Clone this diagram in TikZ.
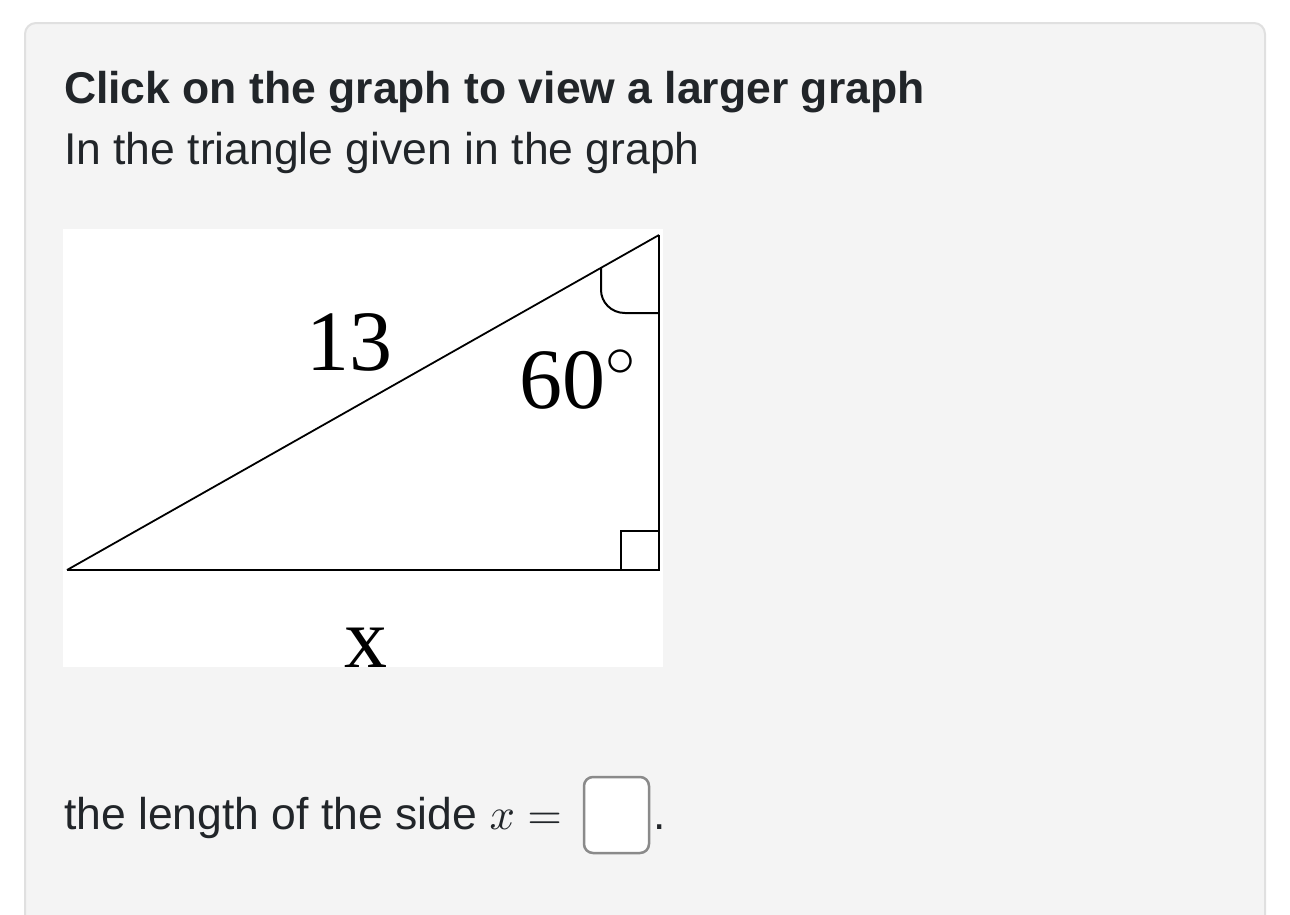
\documentclass[tikz,border=0pt]{standalone}
\usepackage{fontspec}
\setmainfont{Liberation Sans}
\newfontfamily\figfont{Liberation Serif}
\DeclareFontShape{OML}{cmm}{m}{it}{<->cmmi10}{\skewchar\font'177}
\DeclareFontShape{OMS}{cmsy}{m}{n}{<->cmsy10}{\skewchar\font'60}
\DeclareFontShape{OT1}{cmr}{m}{n}{<->cmr10}{}
\definecolor{panelfill}{HTML}{F4F4F4}
\definecolor{panelline}{HTML}{E0E0E0}
\definecolor{ink}{HTML}{212529}
\definecolor{boxline}{HTML}{8A8A8A}
\tikzset{
  txt/.style={inner sep=0pt, outer sep=0pt, text=ink, anchor=base west},
  figlabel/.style={inner sep=0pt, outer sep=0pt, text=black, font=\figfont\fontsize{86}{90}\selectfont},
  leg/.style={line width=2.6pt, black},
  hyp/.style={line width=1.8pt, black},
}
\begin{document}
\begin{tikzpicture}[x=1pt,y=-1pt]
\useasboundingbox (0,0) rectangle (1290,914);
\clip (0,0) rectangle (1290,914);
\fill[white] (0,0) rectangle (1290,914);
% panel
\draw[rounded corners=11pt, fill=panelfill, draw=panelline, line width=2pt]
  (25,960) -- (25,23) -- (1265,23) -- (1265,960);
% heading texts
\node[txt, font=\bfseries\fontsize{44.5}{52}\selectfont] (title) at (64,103) {Click on the graph to view a larger graph};
\node[txt, font=\fontsize{44.5}{52}\selectfont] (intro) at (64,164) {In the triangle given in the graph};
% figure
\fill[white] (63,229) rectangle (663,667);
\begin{scope}
\clip (63,229) rectangle (663,667);
\coordinate (A) at (67,570);
\coordinate (B) at (659,235);
\coordinate (C) at (659,570);
\draw[hyp] (A) -- (B);
\draw[leg, line cap=square] (A) -- (C) -- (B);
\draw[leg] (621,570) -- (621,531) -- (659,531);
\draw[line width=2pt] (601,268) -- (601,290) .. controls (601,302) and (611,313) .. (625,313) -- (659,313);
\node[figlabel] (l13) at (349,342) {13};
\node[figlabel, anchor=base west] (l60) at (519,408) {60$^{\circ}$};
\node[figlabel, anchor=base] (lx) at (366,667) {x};
\end{scope}
% answer line
\node[txt, font=\fontsize{44.5}{52}\selectfont] (ans) at (64,829) {the length of the side $x=$};
\draw[boxline, line width=2.5pt, fill=white, rounded corners=9pt] (584,777) rectangle (649,853);
\node[txt, font=\fontsize{44.5}{52}\selectfont] (dot) at (653,829) {.};
\end{tikzpicture}
\end{document}
